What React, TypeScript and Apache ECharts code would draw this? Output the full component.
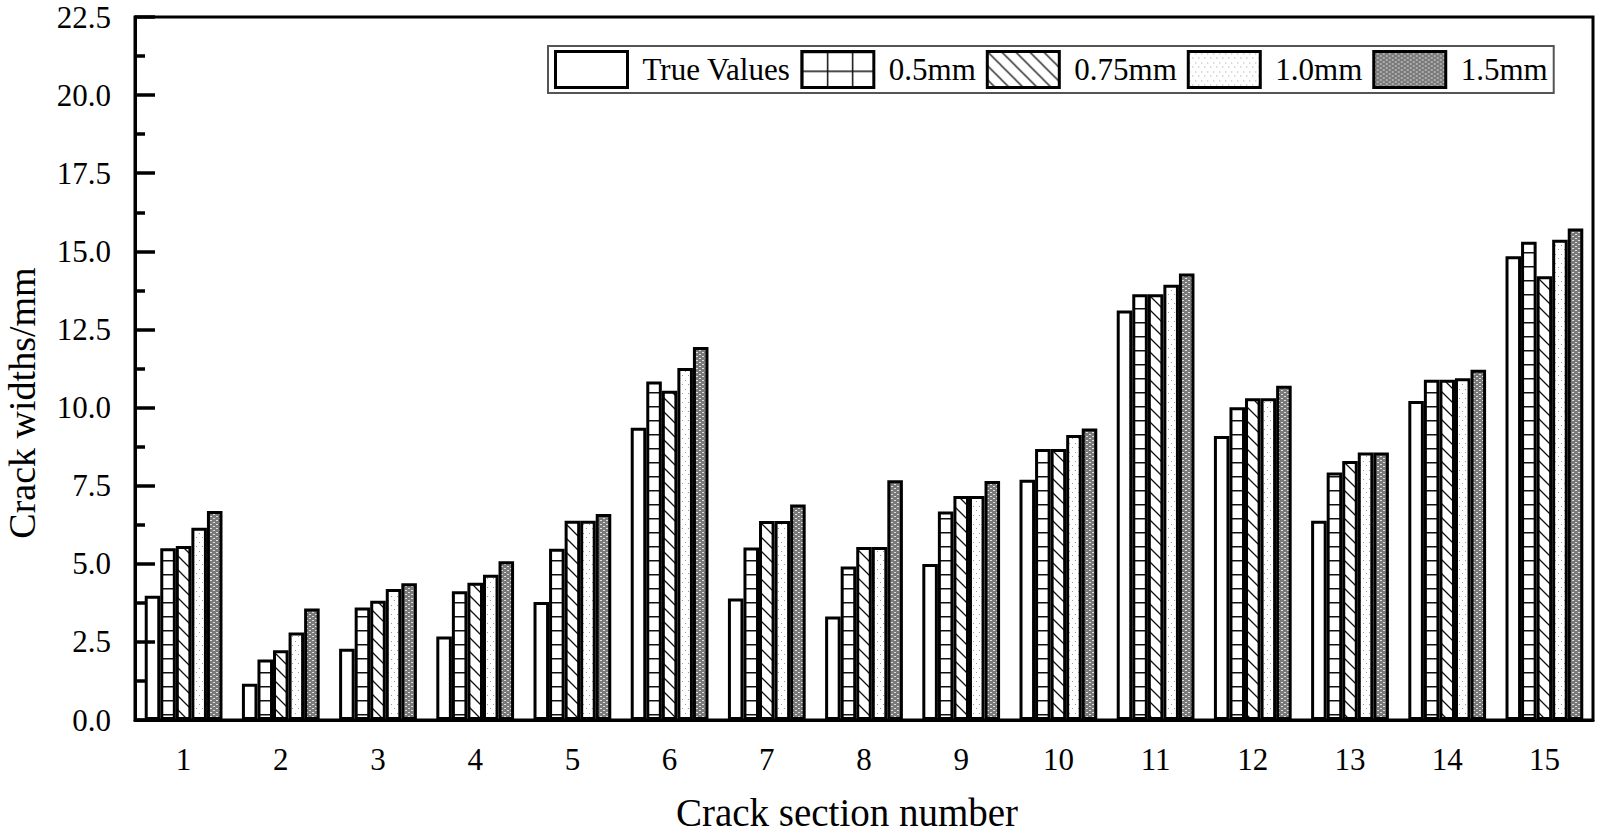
import React, { useEffect, useRef } from "react";
import * as echarts from "echarts";

const categories = ["1", "2", "3", "4", "5", "6", "7", "8", "9", "10", "11", "12", "13", "14", "15"];
const trueValues = [3.98, 1.16, 2.28, 2.67, 3.78, 9.35, 3.89, 3.31, 4.99, 7.69, 13.11, 9.09, 6.38, 10.21, 14.84];
const mm05 = [5.5, 1.94, 3.6, 4.12, 5.48, 10.83, 5.52, 4.91, 6.67, 8.67, 13.63, 10.01, 7.92, 10.89, 15.31];
const mm075 = [5.57, 2.23, 3.82, 4.39, 6.38, 10.54, 6.37, 5.54, 7.17, 8.67, 13.63, 10.3, 8.29, 10.89, 14.2];
const mm10 = [6.15, 2.8, 4.19, 4.65, 6.38, 11.27, 6.37, 5.54, 7.17, 9.12, 13.93, 10.3, 8.56, 10.94, 15.37];
const mm15 = [6.69, 3.57, 4.38, 5.08, 6.59, 11.94, 6.9, 7.67, 7.65, 9.33, 14.29, 10.7, 8.56, 11.21, 15.73];
const seriesNames = ["True Values", "0.5mm", "0.75mm", "1.0mm", "1.5mm"];

const FONT = "Liberation Serif";

// small canvas tiles used as fill patterns
const tile = (w: number, h: number, draw: (ctx: CanvasRenderingContext2D) => void, bg = "#fff") => {
  const c = document.createElement("canvas");
  c.width = w;
  c.height = h;
  const ctx = c.getContext("2d")!;
  ctx.fillStyle = bg;
  ctx.fillRect(0, 0, w, h);
  draw(ctx);
  return { image: c, repeat: "repeat" } as any;
};

const App: React.FC = () => {
  const chartRef = useRef<HTMLDivElement>(null);

  useEffect(() => {
    document.body.style.margin = "0";
    if (!chartRef.current) return;
    const chart = echarts.init(chartRef.current, null, { renderer: "svg" });

    const horiz = tile(16, 14, (ctx) => {
      ctx.fillStyle = "#111";
      ctx.fillRect(0, 0, 16, 1.5);
    });
    const grid = tile(25, 19, (ctx) => {
      ctx.fillStyle = "#111";
      ctx.fillRect(0, 0, 25, 1.5);
      ctx.fillRect(0, 0, 1.5, 19);
    });
    const diag = tile(14, 14, (ctx) => {
      ctx.strokeStyle = "#111";
      ctx.lineWidth = 1.3;
      ctx.beginPath();
      ctx.moveTo(-1, -1);
      ctx.lineTo(15, 15);
      ctx.moveTo(-1, 13);
      ctx.lineTo(1, 15);
      ctx.moveTo(13, -1);
      ctx.lineTo(15, 1);
      ctx.stroke();
    });
    const sparse = tile(6, 9, (ctx) => {
      ctx.fillStyle = "#9a9a9a";
      ctx.fillRect(1, 2, 1, 1);
      ctx.fillRect(4, 6, 1, 1);
    });
    const dense = tile(
      6,
      4,
      (ctx) => {
        ctx.fillStyle = "#e0e0e0";
        ctx.fillRect(0, 0, 2, 1);
        ctx.fillRect(3, 2, 2, 1);
      },
      "#7a7a7a"
    );

    const fills = ["#fff", horiz, diag, sparse, dense];
    const legendFills = ["#fff", grid, diag, sparse, dense];
    const values = [trueValues, mm05, mm075, mm10, mm15];

    const option = {
      animation: false,
      grid: {
        left: 135,
        right: 7,
        top: 17,
        bottom: 114,
        show: true,
        borderColor: "#000",
        borderWidth: 3,
        backgroundColor: "transparent",
      },
      legend: {
        left: 548,
        top: 46,
        icon: "rect",
        itemWidth: 72,
        itemHeight: 36,
        itemGap: 10,
        padding: [4, 6, 4, 6],
        borderColor: "#555",
        borderWidth: 2,
        textStyle: {
          fontFamily: FONT,
          fontSize: 31,
          color: "#000",
          padding: [0, 0, 0, 10],
        },
        data: seriesNames.map((name, i) => ({
          name,
          itemStyle: { color: legendFills[i], borderColor: "#000", borderWidth: 3 },
        })),
      },
      xAxis: [
        {
          type: "category",
          data: categories,
          z: 10,
          axisLine: { lineStyle: { color: "#000", width: 3 } },
          axisTick: {
            alignWithLabel: true,
            inside: true,
            length: 20,
            lineStyle: { color: "#000", width: 3.5 },
          },
          axisLabel: { fontFamily: FONT, fontSize: 31, color: "#000", margin: 24 },
        },
        {
          type: "category",
          data: categories,
          position: "bottom",
          z: 10,
          axisLine: { show: false },
          axisTick: { inside: true, length: 10, lineStyle: { color: "#000", width: 3.5 } },
          axisLabel: { show: false },
        },
      ],
      yAxis: {
        type: "value",
        min: 0,
        max: 22.5,
        interval: 2.5,
        z: 10,
        axisLine: { show: true, lineStyle: { color: "#000", width: 3 } },
        axisTick: { show: true, inside: true, length: 20, lineStyle: { color: "#000", width: 3.5 } },
        minorTick: { show: true, splitNumber: 2, length: 10, lineStyle: { color: "#000", width: 3.5 } },
        splitLine: { show: false },
        axisLabel: {
          fontFamily: FONT,
          fontSize: 31,
          color: "#000",
          margin: 24,
          formatter: (v: number) => v.toFixed(1),
        },
      },
      graphic: [
        {
          type: "text",
          x: 22,
          y: 403,
          rotation: Math.PI / 2,
          style: {
            text: "Crack widths/mm",
            fontFamily: FONT,
            fontSize: 38,
            fill: "#000",
            textAlign: "center",
            textVerticalAlign: "middle",
          },
        },
        {
          type: "text",
          x: 847,
          y: 812,
          style: {
            text: "Crack section number",
            fontFamily: FONT,
            fontSize: 39,
            fill: "#000",
            textAlign: "center",
            textVerticalAlign: "middle",
          },
        },
      ],
      series: seriesNames.map((name, i) => ({
        name,
        type: "bar",
        xAxisIndex: 0,
        data: values[i],
        barGap: "0%",
        barCategoryGap: "20%",
        itemStyle: { color: fills[i], borderColor: "#000", borderWidth: 3 },
      })),
    };

    chart.setOption(option);
    return () => {
      chart.dispose();
    };
  }, []);

  return <div ref={chartRef} style={{ width: "1600px", height: "834px" }} />;
};

export default App;
